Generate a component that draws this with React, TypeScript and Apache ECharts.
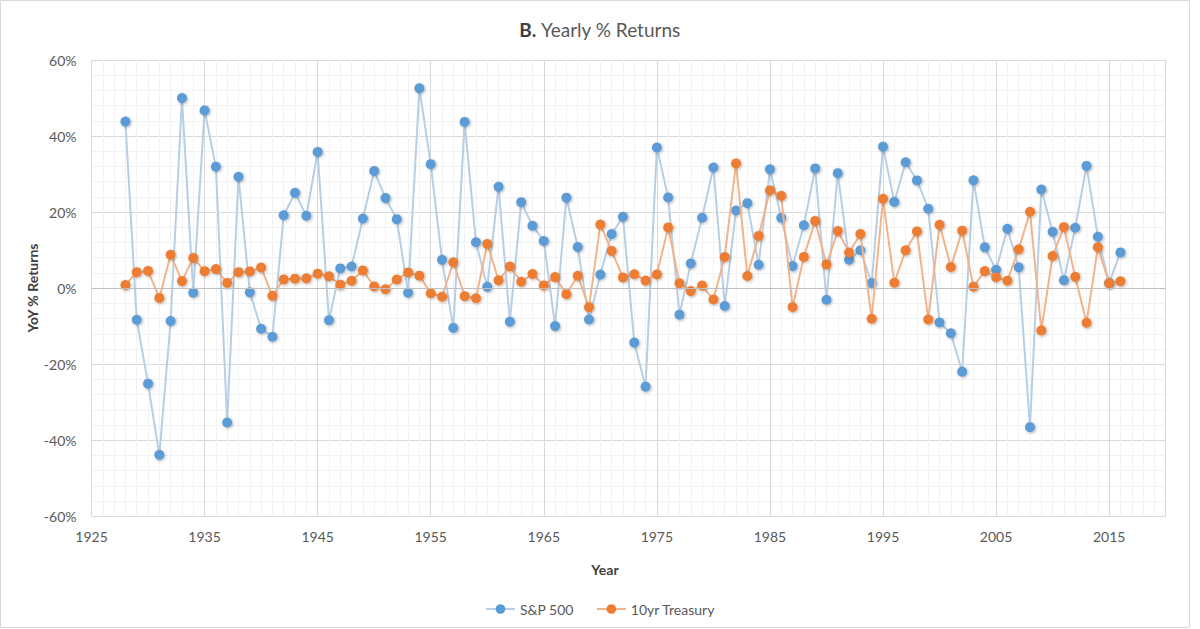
import React, { useEffect, useRef } from "react";
import * as echarts from "echarts";

const years = [
  1928, 1929, 1930, 1931, 1932, 1933, 1934, 1935, 1936, 1937, 1938, 1939,
  1940, 1941, 1942, 1943, 1944, 1945, 1946, 1947, 1948, 1949, 1950, 1951,
  1952, 1953, 1954, 1955, 1956, 1957, 1958, 1959, 1960, 1961, 1962, 1963,
  1964, 1965, 1966, 1967, 1968, 1969, 1970, 1971, 1972, 1973, 1974, 1975,
  1976, 1977, 1978, 1979, 1980, 1981, 1982, 1983, 1984, 1985, 1986, 1987,
  1988, 1989, 1990, 1991, 1992, 1993, 1994, 1995, 1996, 1997, 1998, 1999,
  2000, 2001, 2002, 2003, 2004, 2005, 2006, 2007, 2008, 2009, 2010, 2011,
  2012, 2013, 2014, 2015, 2016,
];

const sp500 = [
  43.81, -8.3, -25.12, -43.84, -8.64, 49.98, -1.19, 46.74, 31.94, -35.34, 29.28, -1.1,
  -10.67, -12.77, 19.17, 25.06, 19.03, 35.82, -8.43, 5.2, 5.7, 18.3, 30.81, 23.68,
  18.15, -1.21, 52.56, 32.6, 7.44, -10.46, 43.72, 12.06, 0.34, 26.64, -8.81, 22.61,
  16.42, 12.4, -9.97, 23.8, 10.81, -8.24, 3.56, 14.22, 18.76, -14.31, -25.9, 37.0,
  23.83, -6.98, 6.51, 18.52, 31.74, -4.7, 20.42, 22.34, 6.15, 31.24, 18.49, 5.81,
  16.54, 31.48, -3.06, 30.23, 7.49, 9.97, 1.33, 37.2, 22.68, 33.1, 28.34, 20.89,
  -9.03, -11.85, -21.97, 28.36, 10.74, 4.83, 15.61, 5.48, -36.55, 25.94, 14.82, 2.1,
  15.89, 32.15, 13.52, 1.38, 9.4,
];

const treasury10 = [
  0.84, 4.2, 4.54, -2.56, 8.79, 1.86, 7.96, 4.47, 5.02, 1.38, 4.21, 4.41,
  5.4, -2.02, 2.29, 2.49, 2.58, 3.8, 3.13, 0.92, 1.95, 4.66, 0.43, -0.3,
  2.27, 4.14, 3.29, -1.34, -2.26, 6.8, -2.1, -2.65, 11.64, 2.06, 5.69, 1.68,
  3.73, 0.72, 2.91, -1.58, 3.27, -5.01, 16.75, 9.79, 2.82, 3.66, 1.99, 3.61,
  15.98, 1.29, -0.78, 0.67, -2.99, 8.2, 32.81, 3.2, 13.73, 25.71, 24.28, -4.96,
  8.22, 17.69, 6.24, 15.0, 9.36, 14.21, -8.04, 23.48, 1.43, 9.94, 14.92, -8.25,
  16.66, 5.57, 15.12, 0.38, 4.49, 2.87, 1.96, 10.21, 20.1, -11.12, 8.46, 16.04,
  2.97, -9.1, 10.75, 1.28, 1.8,
];

const seriesNames = ["S&P 500", "10yr Treasury"];
const xMin = 1925;
const xMax = 2020;
const yMin = -60;
const yMax = 60;

const FONT = "Lato, 'Open Sans', sans-serif";

export default function App() {
  const ref = useRef<HTMLDivElement>(null);

  useEffect(() => {
    document.body.style.margin = "0";
    if (!ref.current) return;
    const chart = echarts.init(ref.current, null, { renderer: "svg" });

    const markerShadow = {
      shadowBlur: 3,
      shadowColor: "rgba(0,0,0,0.3)",
      shadowOffsetX: 1,
      shadowOffsetY: 1,
    };

    const option: any = {
      animation: false,
      backgroundColor: "#ffffff",
      textStyle: { fontFamily: FONT },
      title: {
        text: "{b|B.} Yearly % Returns",
        left: "center",
        top: 15,
        textStyle: {
          fontFamily: FONT,
          fontSize: 19,
          fontWeight: "normal",
          color: "#595959",
          rich: {
            b: {
              fontFamily: FONT,
              fontSize: 19,
              fontWeight: "bold",
              color: "#404040",
            },
          },
        },
      },
      legend: {
        data: seriesNames,
        left: "center",
        top: 597,
        itemWidth: 29,
        itemHeight: 12,
        itemGap: 22,
        textStyle: { fontFamily: FONT, fontSize: 14, color: "#595959" },
      },
      grid: {
        left: 91.5,
        top: 60,
        right: 34.3,
        bottom: 112.7,
        containLabel: false,
      },
      xAxis: {
        type: "value",
        min: xMin,
        max: xMax,
        interval: 10,
        axisLine: { show: false, onZero: false },
        axisTick: { show: false },
        axisLabel: {
          showMaxLabel: false,
          margin: 13,
          color: "#595959",
          fontSize: 14,
          fontFamily: FONT,
          formatter: (v: number) => String(v),
        },
        splitLine: { show: true, lineStyle: { color: "#D9D9D9", width: 1 } },
        minorTick: { show: false, splitNumber: 10 },
        minorSplitLine: { show: true, lineStyle: { color: "#F2F2F2", width: 1 } },
      },
      yAxis: {
        type: "value",
        min: yMin,
        max: yMax,
        interval: 20,
        axisLine: { show: false },
        axisTick: { show: false },
        axisLabel: {
          margin: 15,
          color: "#595959",
          fontSize: 14,
          fontFamily: FONT,
          formatter: "{value}%",
        },
        splitLine: { show: true, lineStyle: { color: "#D9D9D9", width: 1 } },
        minorTick: { show: false, splitNumber: 5 },
        minorSplitLine: { show: true, lineStyle: { color: "#F2F2F2", width: 1 } },
      },
      series: [
        {
          name: seriesNames[0],
          type: "line",
          data: years.map((y, i) => [y, sp500[i]]),
          symbol: "circle",
          symbolSize: 10,
          lineStyle: { color: "#B8CEE5", width: 2 },
          itemStyle: { color: "#5B9BD5", ...markerShadow },
          markLine: {
            silent: true,
            symbol: "none",
            label: { show: false },
            lineStyle: { color: "#BFBFBF", width: 1, type: "solid" },
            data: [{ yAxis: 0 }],
          },
          z: 2,
        },
        {
          name: seriesNames[1],
          type: "line",
          data: years.map((y, i) => [y, treasury10[i]]),
          symbol: "circle",
          symbolSize: 10,
          lineStyle: { color: "#F2B38A", width: 2 },
          itemStyle: { color: "#ED7D31", ...markerShadow },
          z: 3,
        },
      ],
      graphic: [
        {
          type: "rect",
          shape: { x: 0.5, y: 0.5, width: 1189, height: 627 },
          style: { fill: "none", stroke: "#D9D9D9", lineWidth: 1 },
          silent: true,
          z: -10,
        },
        {
          type: "text",
          x: 32,
          y: 288,
          rotation: Math.PI / 2,
          style: {
            text: "YoY % Returns",
            fontFamily: FONT,
            fontSize: 14,
            fontWeight: "bold",
            fill: "#404040",
            textAlign: "center",
            textVerticalAlign: "middle",
          },
        },
        {
          type: "text",
          x: 605,
          y: 569,
          style: {
            text: "Year",
            fontFamily: FONT,
            fontSize: 14,
            fontWeight: "bold",
            fill: "#404040",
            textAlign: "center",
            textVerticalAlign: "middle",
          },
        },
      ],
    };

    chart.setOption(option);
    return () => {
      chart.dispose();
    };
  }, []);

  return (
    <div
      ref={ref}
      style={{ position: "fixed", left: 0, top: 0, width: 1200, height: 629 }}
    />
  );
}
